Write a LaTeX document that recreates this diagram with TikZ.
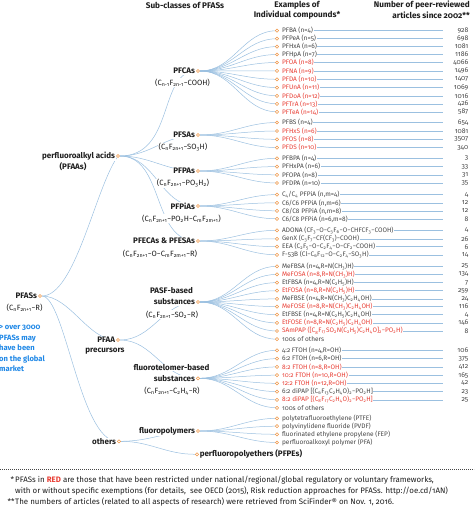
\documentclass[tikz,border=0pt]{standalone}
\usepackage{fontspec}
\setmainfont{Fira Sans}[Numbers=OldStyle]
\pgfdeclarelayer{bg}
\pgfsetlayers{bg,main}
\definecolor{connc}{RGB}{155,192,224}
\definecolor{dotc}{RGB}{240,150,70}
\definecolor{redt}{RGB}{232,62,52}
\definecolor{bluet}{RGB}{30,135,230}
\definecolor{txt}{RGB}{30,30,30}
\definecolor{cmpt}{RGB}{70,70,70}
\newcommand\subs[1]{\textsubscript{#1}}
\tikzset{
  lbl/.style={font=\fontsize{8}{9.6}\selectfont\bfseries, text=txt, inner sep=0.6pt, fill=white},
  frm/.style={font=\fontsize{7.6}{9}\selectfont, text=txt, inner sep=0.4pt, fill=white},
  cmp/.style={font=\fontsize{6.5}{7.2}\selectfont, anchor=west, inner sep=0.4pt},
  cnt/.style={font=\fontsize{6.9}{7.5}\selectfont, text=cmpt, anchor=east, inner sep=0pt},
  hdr/.style={font=\fontsize{8.2}{9.6}\selectfont\bfseries, text=txt, inner sep=0pt},
  dot/.style={circle, draw=dotc, fill=white, line width=0.55pt, inner sep=0pt, minimum size=3.2pt},
  conn/.style={draw=connc, line width=0.5pt},
  ftn/.style={font=\fontsize{7.9}{9}\selectfont, text=txt, anchor=west, inner sep=0pt},
}
% compound row with count: id, y, parent, colour, text, count
\newcommand\cmpd[6]{%
  \coordinate (c#1) at (277,#2);
  \coordinate (e#1) at (443,#2);
  \node[cmp,text=#4] (t#1) at (281.5,#2) {#5};
  \node[cnt] (n#1) at (468.5,#2) {#6};
  \begin{pgfonlayer}{bg}
  \draw[conn] (#3) to[out=0,in=180] (c#1);
  \draw[conn] (t#1.east) -- (e#1);
  \end{pgfonlayer}
  \node[dot] (d#1) at (c#1) {};
}
% compound row without count: id, y, parent, text
\newcommand\cmpo[4]{%
  \coordinate (c#1) at (277,#2);
  \node[cmp,text=cmpt] (t#1) at (281.5,#2) {#4};
  \begin{pgfonlayer}{bg}
  \draw[conn] (#3) to[out=0,in=180] (c#1);
  \end{pgfonlayer}
  \node[dot] (d#1) at (c#1) {};
}
\begin{document}
\begin{tikzpicture}[x=1pt,y=-1pt]
\useasboundingbox (0,0) rectangle (474,506);
% headers
\node[hdr] (h1) at (185,5.5) {Sub-classes of PFASs};
\node[hdr] (h2a) at (297,5.5) {Examples of};
\node[hdr] (h2b) at (297,15.5) {Individual compounds*};
\node[hdr,anchor=east] (h3a) at (470,5.5) {Number of peer-reviewed};
\node[hdr,anchor=east] (h3b) at (470,15.5) {articles since 2002**};

% main dots
\node[dot] (pfas) at (40,296) {};
\node[dot] (pfaa) at (118,156) {};
\node[dot] (prec) at (118,340) {};
\node[dot] (oth) at (119,441.3) {};
\node[dot] (pfca) at (198,71) {};
\node[dot] (pfsa) at (198,135) {};
\node[dot] (pfpa) at (198,171) {};
\node[dot] (pfpi) at (198,206) {};
\node[dot] (pfec) at (198,241) {};
\node[dot] (pasf) at (198,302) {};
\node[dot] (ftb) at (198,378.3) {};
\node[dot] (poly) at (198,431) {};
\node[dot] (pfpe) at (197,454.3) {};

% main connectors
\begin{pgfonlayer}{bg}
\draw[conn] (pfas) .. controls (75,296) and (95,190) .. (pfaa);
\draw[conn] (pfas) .. controls (70,296) and (88,340) .. (prec);
\draw[conn] (pfas) .. controls (65,296) and (80,441) .. (oth);
\draw[conn] (pfaa) .. controls (175,156) and (158,71) .. (pfca);
\draw[conn] (pfaa) to[out=0,in=180] (pfsa);
\draw[conn] (pfaa) to[out=0,in=180] (pfpa);
\draw[conn] (pfaa) to[out=0,in=180] (pfpi);
\draw[conn] (pfaa) to[out=0,in=180] (pfec);
\draw[conn] (prec) to[out=0,in=180] (pasf);
\draw[conn] (prec) to[out=0,in=180] (ftb);
\draw[conn] (oth) to[out=0,in=180] (poly);
\draw[conn] (oth) to[out=0,in=180] (pfpe);
\end{pgfonlayer}

% main labels
\node[lbl,anchor=east] (pfasL) at (37.8,296) {PFASs};
\node[frm] (pfasF) at (24.5,307.5) {(C\subs{n}F\subs{2n+1}−R)};
\node[anchor=north west, text=bluet, font=\fontsize{7.6}{10.5}\selectfont\bfseries, align=left, inner sep=0pt] (note) at (-1,325.2) {> over 3000\\PFASs may\\have been\\on the global\\market};

\node[lbl,anchor=east] (pfaaL) at (115.8,156) {perfluoroalkyl acids};
\node[lbl] (pfaaL2) at (73,167) {(PFAAs)};
\node[lbl,anchor=east] (precL) at (115.8,340) {PFAA};
\node[lbl] (precL2) at (105,351.5) {precursors};
\node[lbl,anchor=east] (othL) at (116.8,441.3) {others};

\node[lbl,anchor=east] (pfcaL) at (195.8,71) {PFCAs};
\node[frm] (pfcaF) at (182.5,82.5) {(C\subs{n-1}F\subs{2n-1}−COOH)};
\node[lbl,anchor=east] (pfsaL) at (195.8,135) {PFSAs};
\node[frm] (pfsaF) at (183,147.5) {(C\subs{n}F\subs{2n+1}−SO\subs{3}H)};
\node[lbl,anchor=east] (pfpaL) at (195.8,171) {PFPAs};
\node[frm] (pfpaF) at (183,183.5) {(C\subs{n}F\subs{2n+1}−PO\subs{3}H\subs{2})};
\node[lbl,anchor=east] (pfpiL) at (195.8,206) {PFPiAs};
\node[frm] (pfpiF) at (181.5,218.5) {(C\subs{n}F\subs{2n+1}−PO\subs{2}H−C\subs{m}F\subs{2m+1})};
\node[lbl,anchor=east] (pfecL) at (195.8,241) {PFECAs \& PFESAs};
\node[frm] (pfecF) at (160,253.5) {(C\subs{n}F\subs{2n+1}−O−C\subs{m}F\subs{2m+1}−R)};
\node[lbl] (pasfL1) at (171.5,290.7) {PASF-based};
\node[lbl,anchor=east] (pasfL2) at (195.8,302) {substances};
\node[frm] (pasfF) at (172,314.5) {(C\subs{n}F\subs{2n+1}−SO\subs{2}−R)};
\node[lbl] (ftbL1) at (171.5,367.7) {fluorotelomer-based};
\node[lbl,anchor=east] (ftbL2) at (195.8,378.3) {substances};
\node[frm] (ftbF) at (172,390.7) {(C\subs{n}F\subs{2n+1}−C\subs{2}H\subs{4}−R)};
\node[lbl,anchor=east] (polyL) at (195.8,431) {fluoropolymers};
\node[lbl,anchor=west] (pfpeL) at (199,454.3) {perfluoropolyethers (PFPEs)};

% PFCAs
\cmpd{a1}{30.7}{pfca}{cmpt}{PFBA (n=4)}{928}
\cmpd{a2}{38.7}{pfca}{cmpt}{PFPeA (n=5)}{698}
\cmpd{a3}{46.6}{pfca}{cmpt}{PFHxA (n=6)}{1081}
\cmpd{a4}{54.5}{pfca}{cmpt}{PFHpA (n=7)}{1186}
\cmpd{a5}{62.5}{pfca}{redt}{PFOA (n=8)}{4066}
\cmpd{a6}{70.8}{pfca}{redt}{PFNA (n=9)}{1496}
\cmpd{a7}{79.3}{pfca}{redt}{PFDA (n=10)}{1407}
\cmpd{a8}{87.6}{pfca}{redt}{PFUnA (n=11)}{1069}
\cmpd{a9}{95.8}{pfca}{redt}{PFDoA (n=12)}{1016}
\cmpd{a10}{103.8}{pfca}{redt}{PFTrA (n=13)}{426}
\cmpd{a11}{111.8}{pfca}{redt}{PFTeA (n=14)}{587}
% PFSAs
\cmpd{b1}{122.5}{pfsa}{cmpt}{PFBS (n=4)}{654}
\cmpd{b2}{131}{pfsa}{redt}{PFHxS (n=6)}{1081}
\cmpd{b3}{139.3}{pfsa}{redt}{PFOS (n=8)}{3507}
\cmpd{b4}{147.6}{pfsa}{redt}{PFDS (n=10)}{340}
% PFPAs
\cmpd{c1}{158.3}{pfpa}{cmpt}{PFBPA (n=4)}{3}
\cmpd{c2}{166.6}{pfpa}{cmpt}{PFHxPA (n=6)}{33}
\cmpd{c3}{174.8}{pfpa}{cmpt}{PFOPA (n=8)}{31}
\cmpd{c4}{183}{pfpa}{cmpt}{PFDPA (n=10)}{35}
% PFPiAs
\cmpd{p1}{194.6}{pfpi}{cmpt}{C\subs{4}/C\subs{4} PFPiA (n,m=4)}{4}
\cmpd{p2}{202.8}{pfpi}{cmpt}{C6/C6 PFPiA (n,m=6)}{12}
\cmpd{p3}{210.8}{pfpi}{cmpt}{C8/C8 PFPiA (n,m=8)}{12}
\cmpd{p4}{218.8}{pfpi}{cmpt}{C6/C8 PFPiA (n=6,m=8)}{8}
% ethers
\cmpd{e1}{230.3}{pfec}{cmpt}{ADONA (CF\subs{3}−O−C\subs{3}F\subs{6}−O−CHFCF\subs{3}−COOH)}{4}
\cmpd{e2}{238.8}{pfec}{cmpt}{GenX (C\subs{3}F\subs{7}−CF(CF\subs{3})−COOH)}{26}
\cmpd{e3}{246.7}{pfec}{cmpt}{EEA (C\subs{2}F\subs{5}−O−C\subs{2}F\subs{4}−O−CF\subs{2}−COOH)}{6}
\cmpd{e4}{254.8}{pfec}{cmpt}{F-53B (Cl−C\subs{6}F\subs{12}−O−C\subs{2}F\subs{4}−SO\subs{3}H)}{14}
% PASF
\cmpd{s1}{266.3}{pasf}{cmpt}{MeFBSA (n=4,R=N(CH\subs{3})H)}{25}
\cmpd{s2}{274.4}{pasf}{redt}{MeFOSA (n=8,R=N(CH\subs{3})H)}{134}
\cmpd{s3}{282.6}{pasf}{cmpt}{EtFBSA (n=4,R=N(C\subs{2}H\subs{5})H)}{7}
\cmpd{s4}{290.7}{pasf}{redt}{EtFOSA (n=8,R=N(C\subs{2}H\subs{5})H)}{259}
\cmpd{s5}{298.9}{pasf}{cmpt}{MeFBSE (n=4,R=N(CH\subs{3})C\subs{2}H\subs{4}OH)}{24}
\cmpd{s6}{306.6}{pasf}{redt}{MeFOSE (n=8,R=N(CH\subs{3})C\subs{2}H\subs{4}OH)}{116}
\cmpd{s7}{314.7}{pasf}{cmpt}{EtFBSE (n=4,R=N(C\subs{2}H\subs{5})C\subs{2}H\subs{4}OH)}{4}
\cmpd{s8}{322.9}{pasf}{redt}{EtFOSE (n=8,R=N(C\subs{2}H\subs{5})C\subs{2}H\subs{4}OH)}{146}
\cmpd{s9}{331}{pasf}{redt}{SAmPAP ([C\subs{8}F\subs{17}SO\subs{2}N(C\subs{2}H\subs{5})C\subs{2}H\subs{4}O]\subs{2}−PO\subs{2}H)}{8}
\cmpo{s10}{339.2}{pasf}{100s of others}
% fluorotelomers
\cmpd{f1}{350.3}{ftb}{cmpt}{4:2 FTOH (n=4,R=OH)}{106}
\cmpd{f2}{358.6}{ftb}{cmpt}{6:2 FTOH (n=6,R=OH)}{375}
\cmpd{f3}{366.9}{ftb}{redt}{8:2 FTOH (n=8,R=OH)}{412}
\cmpd{f4}{375.2}{ftb}{redt}{10:2 FTOH (n=10,R=OH)}{165}
\cmpd{f5}{383.3}{ftb}{redt}{12:2 FTOH (n=12,R=OH)}{42}
\cmpd{f6}{391.6}{ftb}{cmpt}{6:2 diPAP [(C\subs{6}F\subs{13}C\subs{2}H\subs{4}O)\subs{2}−PO\subs{2}H]}{23}
\cmpd{f7}{399.8}{ftb}{redt}{8:2 diPAP [(C\subs{8}F\subs{17}C\subs{2}H\subs{4}O)\subs{2}−PO\subs{2}H]}{25}
\cmpo{f8}{407.8}{ftb}{100s of others}
% polymers
\cmpo{g1}{418.3}{poly}{polytetrafluoroethylene (PTFE)}
\cmpo{g2}{426.2}{poly}{polyvinylidene fluoride (PVDF)}
\cmpo{g3}{434.3}{poly}{fluorinated ethylene propylene (FEP)}
\cmpo{g4}{442.5}{poly}{perfluoroalkoxyl polymer (PFA)}

% separator and footnotes
\coordinate (sepL) at (0,469.5);
\coordinate (sepR) at (474,469.5);
\draw[draw=cmpt, line width=0.6pt, dash pattern=on 0.8pt off 1.2pt] (sepL) -- (sepR);
\node[ftn] (fs1) at (10.5,480) {*};
\node[ftn] (ft1) at (15,480) {PFASs in \textcolor{redt}{\bfseries RED} are those that have been restricted under national/regional/global regulatory or voluntary frameworks,};
\node[ftn] (ft2) at (15,491.3) {with or without specific exemptions (for details,\ \ see OECD (2015), Risk reduction approaches for PFASs. http://oe.cd/1AN)};
\node[ftn] (fs3) at (7.5,501.7) {**};
\node[ftn] (ft3) at (15,501.7) {The numbers of articles (related to all aspects of research) were retrieved from SciFinder® on Nov. 1, 2016.};
\end{tikzpicture}
\end{document}
